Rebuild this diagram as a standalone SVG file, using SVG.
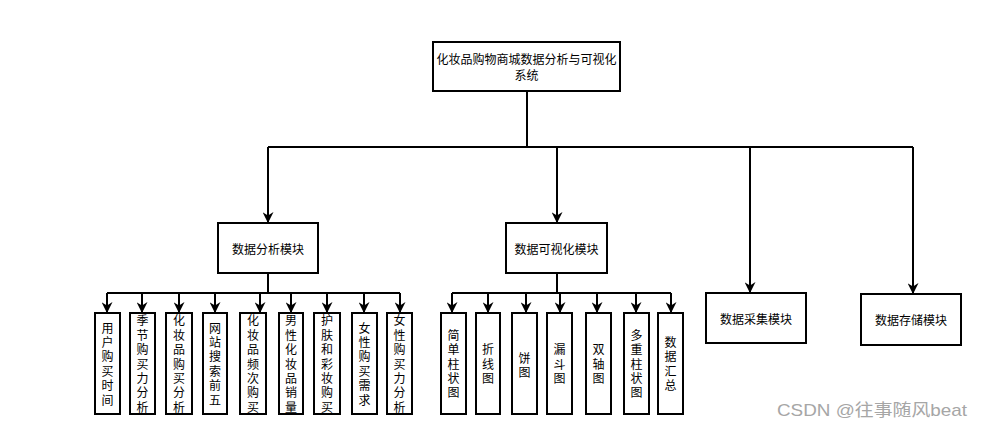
<svg xmlns="http://www.w3.org/2000/svg" width="983" height="429" viewBox="0 0 983 429">
<defs>
<style>
.box{fill:#fff;stroke:#000;stroke-width:2}
.t{font-family:"Noto Sans CJK SC","Noto Sans",sans-serif;font-size:12px;fill:#000;text-anchor:middle;dominant-baseline:central}
.v{font-family:"Noto Sans CJK SC","Noto Sans",sans-serif;font-size:12px;fill:#000;text-anchor:middle;writing-mode:vertical-rl;letter-spacing:2.4px}
.ln{fill:none;stroke:#000;stroke-width:2}
.ar{fill:none;stroke:#000;stroke-width:2;marker-end:url(#ah)}
.wm{font-family:"Liberation Sans","Noto Sans CJK SC",sans-serif;font-size:17px;fill:#a6a6a6}
</style>
<marker id="ah" viewBox="0 0 10 10" refX="9" refY="5" markerWidth="11" markerHeight="11" markerUnits="userSpaceOnUse" orient="auto">
<path d="M0,0 L10,5 L0,10 L3,5 Z" fill="#000"/>
</marker>
</defs>
<rect width="983" height="429" fill="#fff"/>
<g id="connectors">
<path class="ln" d="M527,91 V147 M268,147 H913"/>
<path class="ar" d="M268,147 V222"/>
<path class="ar" d="M557,147 V222"/>
<path class="ar" d="M750,147 V292"/>
<path class="ar" d="M913,147 V293"/>
<path class="ln" d="M268,273 V293 M107,293 H400"/>
<path class="ar" d="M107,293 V312"/>
<path class="ar" d="M142,293 V312"/>
<path class="ar" d="M179,293 V312"/>
<path class="ar" d="M215,293 V312"/>
<path class="ar" d="M260,293 V312"/>
<path class="ar" d="M291,293 V312"/>
<path class="ar" d="M327,293 V312"/>
<path class="ar" d="M364,293 V312"/>
<path class="ar" d="M400,293 V312"/>
<path class="ln" d="M557,273 V293 M452,293 H671"/>
<path class="ar" d="M452,293 V312"/>
<path class="ar" d="M488,293 V312"/>
<path class="ar" d="M526,293 V312"/>
<path class="ar" d="M560,293 V312"/>
<path class="ar" d="M597,293 V312"/>
<path class="ar" d="M636,293 V312"/>
<path class="ar" d="M671,293 V312"/>
</g>
<g id="root"><rect class="box" x="433" y="42" width="187" height="49"/>
<text class="t" x="526.5" y="58">化妆品购物商城数据分析与可视化</text>
<text class="t" x="526.5" y="74">系统</text></g>
<g id="analysis"><rect class="box" x="218" y="223" width="100" height="50"/><text class="t" x="268" y="248">数据分析模块</text></g>
<g id="visual"><rect class="box" x="506" y="223" width="101" height="50"/><text class="t" x="556.5" y="248">数据可视化模块</text></g>
<g id="collect"><rect class="box" x="706" y="293" width="100" height="50"/><text class="t" x="756" y="318">数据采集模块</text></g>
<g id="store"><rect class="box" x="861" y="294" width="100" height="51"/><text class="t" x="911" y="319.5">数据存储模块</text></g>

<g id="a1"><rect class="box" x="95" y="313" width="25" height="101"/><text class="v" x="107.5" y="365.2">用户购买时间</text></g>
<g id="a2"><rect class="box" x="130" y="313" width="25" height="101"/><text class="v" x="142.5" y="365.2">季节购买力分析</text></g>
<g id="a3"><rect class="box" x="166" y="313" width="26" height="101"/><text class="v" x="179" y="365.2">化妆品购买分析</text></g>
<g id="a4"><rect class="box" x="203" y="313" width="24" height="101"/><text class="v" x="215" y="365.2">网站搜索前五</text></g>
<g id="a5"><rect class="box" x="240" y="313" width="26" height="101"/><text class="v" x="253" y="365.2">化妆品频次购买</text></g>
<g id="a6"><rect class="box" x="279" y="313" width="24" height="101"/><text class="v" x="291" y="365.2">男性化妆品销量</text></g>
<g id="a7"><rect class="box" x="314" y="313" width="26" height="101"/><text class="v" x="327" y="365.2">护肤和彩妆购买</text></g>
<g id="a8"><rect class="box" x="352" y="313" width="25" height="101"/><text class="v" x="364.5" y="365.2">女性购买需求</text></g>
<g id="a9"><rect class="box" x="387" y="313" width="25" height="101"/><text class="v" x="399.5" y="365.2">女性购买力分析</text></g>

<g id="v1"><rect class="box" x="441" y="313" width="25" height="101"/><text class="v" x="453.5" y="365.2">简单柱状图</text></g>
<g id="v2"><rect class="box" x="476" y="313" width="24" height="101"/><text class="v" x="488" y="365.2">折线图</text></g>
<g id="v3"><rect class="box" x="512" y="313" width="25" height="101"/><text class="v" x="524.5" y="366.4">饼图</text></g>
<g id="v4"><rect class="box" x="547" y="313" width="25" height="101"/><text class="v" x="559.5" y="365.2">漏斗图</text></g>
<g id="v5"><rect class="box" x="586" y="313" width="25" height="101"/><text class="v" x="598.5" y="365.2">双轴图</text></g>
<g id="v6"><rect class="box" x="624" y="313" width="25" height="101"/><text class="v" x="636.5" y="365.2">多重柱状图</text></g>
<g id="v7"><rect class="box" x="658" y="313" width="25" height="101"/><text class="v" x="670.5" y="365.2">数据汇总</text></g>

<text class="wm" x="777" y="416" textLength="190" lengthAdjust="spacingAndGlyphs">CSDN @往事随风beat</text>
</svg>
